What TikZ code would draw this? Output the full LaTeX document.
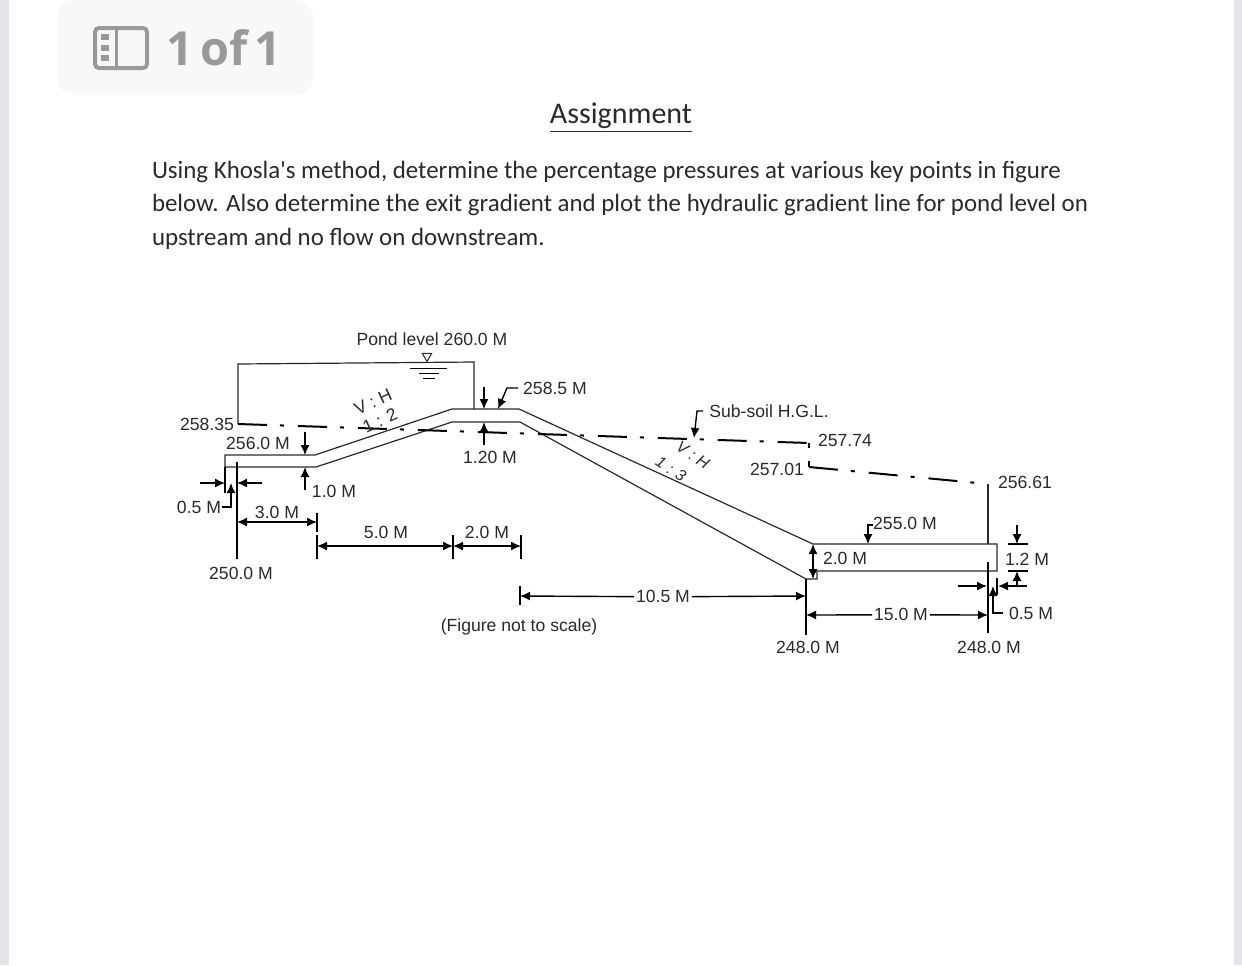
\documentclass[tikz,border=0pt]{standalone}
\usepackage{fontspec}
\usetikzlibrary{shapes.geometric, arrows.meta}
\setmainfont{Liberation Sans}
\newfontfamily\notefont{Carlito}
\newfontfamily\badgefont{Open Sans}
\definecolor{badgegray}{HTML}{999999}
\definecolor{pillgray}{HTML}{F8F8F8}
\definecolor{edgegray}{HTML}{E4E4EA}
\definecolor{inkgray}{HTML}{2A2A2A}

\begin{document}
\begin{tikzpicture}[x=0.5pt,y=-0.5pt]
\tikzset{ >={Latex[length=5pt,width=4.5pt]}, inner sep=0pt, outer sep=0pt,
  thinline/.style={line width=0.6pt, inkgray},
  dim/.style={line width=0.7pt, black},
  hgl/.style={line width=1pt, black, dash pattern=on 14.5pt off 6.5pt on 2pt off 7pt},
  lab/.style={font=\fontsize{8.8}{10}\selectfont, text=inkgray, yshift=-0.4pt},
  note/.style={font=\notefont\fontsize{12.45}{15}\selectfont, text=inkgray, anchor=west},
  slope/.style={font=\fontsize{8}{10}\selectfont\itshape, text=inkgray},
}

\useasboundingbox (0,0) rectangle (1242,965);
\fill [white] (0,0) rectangle (1242,965);
\fill [edgegray] (0,0) rectangle (9,965);
\fill [edgegray] (1234,0) rectangle (1242,965);

% badge
\fill [pillgray, rounded corners=9pt] (57,0) rectangle (313,95);
\draw [badgegray, line width=2pt, rounded corners=2pt] (95,28) rectangle (147,68);
\draw [badgegray, line width=1.5pt] (116,28) -- (116,68);
\foreach \y in {37,48,58} {
  \fill [badgegray] (101,\y-3) rectangle (109,\y+3);
}
\node [font=\badgefont\fontsize{23.5}{28}\selectfont\bfseries, text=badgegray] (pages) at (224,48) {\spaceskip=0.14em 1 of 1};

% text
\node [font=\notefont\fontsize{15}{18}\selectfont, text=inkgray] (title) at (621,118) {\underline{Assignment}};
\node [note] (lineA) at (152,172) {Using Khosla's method, determine the percentage pressures at various key points in figure};
\node [note] (lineB) at (152,205) {below. Also determine the exit gradient and plot the hydraulic gradient line for pond level on};
\node [note] (lineC) at (152,239) {upstream and no flow on downstream.};

% floor outline
\coordinate (A) at (225,455);
\coordinate (B) at (315,455);
\coordinate (C) at (452,409);
\coordinate (D) at (519,409);
\coordinate (E) at (813,544);
\coordinate (F) at (997,544);
\coordinate (G) at (997,571);
\coordinate (H) at (817,571);
\coordinate (I) at (817,579);
\coordinate (J) at (806,579);
\coordinate (K) at (520,422);
\coordinate (L) at (452,422);
\coordinate (M) at (316,467);
\coordinate (N) at (225,467);
\draw [thinline] (A) -- (B) -- (C) -- (D) -- (E) -- (F) -- (G) -- (H) -- (I) -- (J) -- (K) -- (L) -- (M) -- (N) -- cycle;

% pond
\coordinate (P1) at (238,424);
\coordinate (P2) at (238,364);
\coordinate (P3) at (474,362);
\coordinate (P4) at (474,409);
\draw [thinline] (P1) -- (P2) -- (P3) -- (P4);
\node [draw=inkgray, line width=0.5pt, regular polygon, regular polygon sides=3, shape border rotate=180, minimum size=5.5pt] (wtri) at (427,356) {};
\coordinate (w1a) at (410,368); \coordinate (w1b) at (447,368);
\coordinate (w2a) at (419,373); \coordinate (w2b) at (439,373);
\coordinate (w3a) at (423,378); \coordinate (w3b) at (435,378);
\draw [line width=0.45pt] (w1a) -- (w1b);
\draw [line width=0.45pt] (w2a) -- (w2b);
\draw [line width=0.45pt] (w3a) -- (w3b);

% sub-soil lines
\coordinate (Q1) at (238,424);
\coordinate (Q2) at (809,443);
\coordinate (Q3) at (809,461);
\coordinate (Q4) at (809,467);
\coordinate (Q5) at (988,484);
\coordinate (Q6) at (988,544);
\draw [hgl] (Q1) -- (Q2);
\draw [line width=1pt] (Q2) -- ++(0,5);
\draw [line width=1pt] (Q3) -- (Q4);
\draw [hgl] (Q4) -- (Q5);
\draw [thinline] (Q5) -- (Q6);

% cut-offs
\coordinate (U1) at (237,462);
\coordinate (U2) at (237,559);
\coordinate (V1) at (806,579);
\coordinate (V2) at (806,635);
\coordinate (W1) at (988,562);
\coordinate (W2) at (988,633);
\draw [dim] (U1) -- (U2);
\draw [dim] (V1) -- (V2);
\draw [dim] (W1) -- (W2);

% upstream cut-off width
\coordinate (a1) at (200,483);
\coordinate (a2) at (225,483);
\coordinate (a3) at (262,483);
\coordinate (a4) at (237,483);
\coordinate (a5) at (225,467);
\coordinate (a6) at (225,493);
\coordinate (a7) at (231,483);
\coordinate (a8) at (231,507);
\coordinate (a9) at (222,507);
\draw [dim, ->] (a1) -- (a2);
\draw [dim, ->] (a3) -- (a4);
\draw [dim] (a5) -- (a6);
\draw [dim, <-] (a7) -- (a8) -- (a9);

% thickness upstream
\coordinate (b1) at (305,432);
\coordinate (b2) at (305,455);
\coordinate (b3) at (305,490);
\coordinate (b4) at (305,467);
\draw [dim, ->] (b1) -- (b2);
\draw [dim, ->] (b3) -- (b4);

% crest
\coordinate (c1) at (484,387);
\coordinate (c2) at (484,409);
\coordinate (c3) at (518,388);
\coordinate (c4) at (507,388);
\coordinate (c5) at (498,409);
\coordinate (c6) at (484,445);
\coordinate (c7) at (484,422);
\draw [dim, ->] (c1) -- (c2);
\draw [dim, ->] (c3) -- (c4) -- (c5);
\draw [dim, ->] (c6) -- (c7);

% H.G.L. pointer
\coordinate (d1) at (703,411);
\coordinate (d2) at (697,411);
\coordinate (d3) at (694,438);
\draw [dim, ->] (d1) -- (d2) -- (d3);

% 3.0 5.0 2.0
\coordinate (e1) at (237,522);
\coordinate (e2) at (317,522);
\coordinate (e3) at (317,513);
\coordinate (e4) at (317,532);
\draw [dim, <->] (e1) -- (e2);
\draw [dim] (e3) -- (e4);
\coordinate (f1) at (317,535);
\coordinate (f2) at (317,559);
\coordinate (f3) at (453,535);
\coordinate (f4) at (453,559);
\coordinate (f5) at (521,535);
\coordinate (f6) at (521,559);
\coordinate (f7) at (317,546);
\coordinate (f8) at (453,546);
\coordinate (f9) at (521,546);
\draw [dim] (f1) -- (f2);
\draw [dim] (f3) -- (f4);
\draw [dim] (f5) -- (f6);
\draw [dim, <->] (f7) -- (f8);
\draw [dim, <->] (f8) -- (f9);

% 10.5 and 15.0
\node [lab, fill=white, inner sep=1pt] (t105) at (663,596) {10.5 M};
\node [lab, fill=white, inner sep=1pt] (t150) at (901,614) {15.0 M};
\coordinate (g1) at (520,586);
\coordinate (g2) at (520,605);
\coordinate (g3) at (520,596);
\coordinate (g4) at (806,596);
\coordinate (g5) at (806,615);
\coordinate (g6) at (988,615);
\draw [dim] (g1) -- (g2);
\draw [dim, ->] (t105) -- (g3);
\draw [dim, ->] (t105) -- (g4);
\draw [dim, ->] (t150) -- (g5);
\draw [dim, ->] (t150) -- (g6);

% downstream
\coordinate (h1) at (813,544);
\coordinate (h2) at (813,579);
\coordinate (h3) at (873,525);
\coordinate (h4) at (868,525);
\coordinate (h5) at (868,544);
\draw [dim, <->] (h1) -- (h2);
\draw [dim, ->] (h3) -- (h4) -- (h5);

\coordinate (i1) at (1017,525);
\coordinate (i2) at (1017,544);
\coordinate (i3) at (1008,544);
\coordinate (i4) at (1028,544);
\coordinate (i5) at (1008,571);
\coordinate (i6) at (1028,571);
\coordinate (i7) at (1017,586);
\coordinate (i8) at (1017,571);
\draw [dim, ->] (i1) -- (i2);
\draw [dim] (i3) -- (i4);
\draw [dim] (i5) -- (i6);
\draw [dim, ->] (i7) -- (i8);

\coordinate (j1) at (958,586);
\coordinate (j2) at (987,586);
\coordinate (j3) at (1027,586);
\coordinate (j4) at (998,586);
\coordinate (j5) at (997,578);
\coordinate (j6) at (997,595);
\coordinate (j7) at (993,586);
\coordinate (j8) at (993,613);
\coordinate (j9) at (1003,613);
\draw [dim, ->] (j1) -- (j2);
\draw [dim, ->] (j3) -- (j4);
\draw [dim] (j5) -- (j6);
\draw [dim, <-] (j7) -- (j8) -- (j9);

% labels
\node [lab] (pond) at (432,338) {Pond level 260.0 M};
\node [lab] (t25835) at (207,424) {258.35};
\node [lab] (t2560) at (258,443) {256.0 M};
\node [lab] (t10) at (334,491) {1.0 M};
\node [lab] (t05a) at (199,507) {0.5 M};
\node [lab] (t30) at (277,512) {3.0 M};
\node [lab] (t50) at (386,532) {5.0 M};
\node [lab] (t20a) at (487,532) {2.0 M};
\node [lab] (t2500) at (241,573) {250.0 M};
\node [lab] (t2585) at (555,388) {258.5 M};
\node [lab] (t120) at (490,457) {1.20 M};
\node [lab] (hglname) at (769,410) {Sub-soil H.G.L.};
\node [lab] (t25774) at (845,440) {257.74};
\node [lab] (t25701) at (777,469) {257.01};
\node [lab] (t25661) at (1025,482) {256.61};
\node [lab] (t2550) at (905,523) {255.0 M};
\node [lab] (t20b) at (845,558) {2.0 M};
\node [lab] (t12) at (1027,559) {1.2 M};
\node [lab] (t05b) at (1031,613) {0.5 M};
\node [lab] (t2480a) at (808,647) {248.0 M};
\node [lab] (t2480b) at (989,647) {248.0 M};
\node [lab] (figscale) at (519,626) {(Figure not to scale)};
\node [lab, rotate=25] (vhA) at (373,401) {V : H};
\node [lab, rotate=25] (ratioA) at (380,420) {1 : 2};
\node [slope, rotate=-33] (vhB) at (693,455) {V : H};
\node [slope, rotate=-33] (ratioB) at (671,469) {1 : 3};

\end{tikzpicture}
\end{document}
